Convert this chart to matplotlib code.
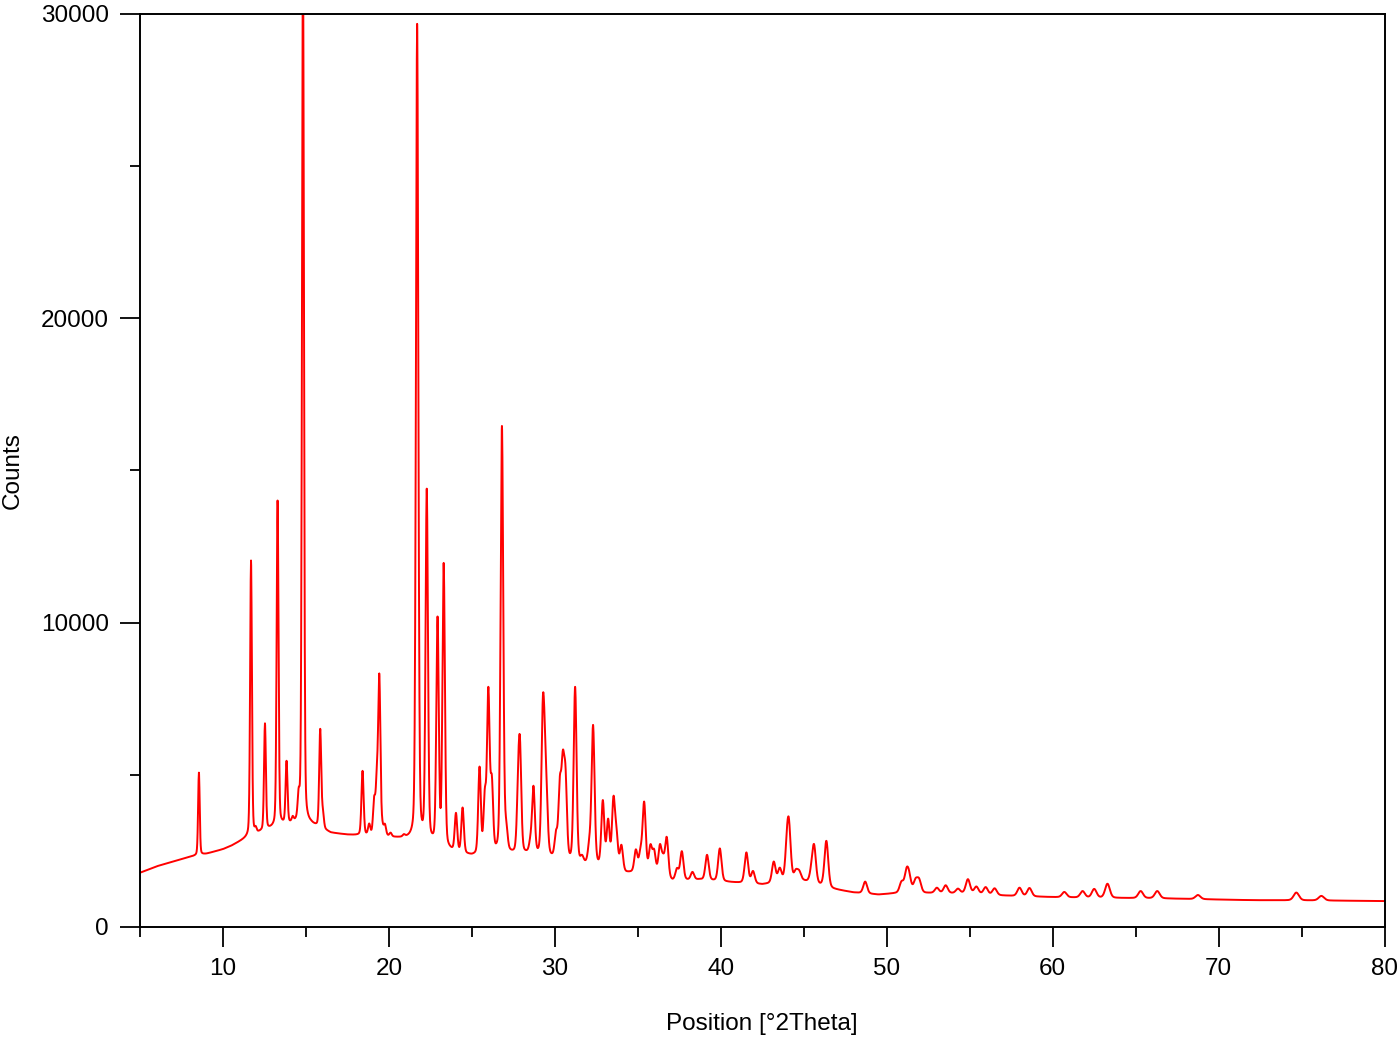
import matplotlib
matplotlib.use("Agg")
import matplotlib.pyplot as plt
import numpy as np
from matplotlib.ticker import MultipleLocator

# background knots (2theta, counts)
bg_pos = [5, 6, 7, 8, 9, 10, 10.5, 11.5, 12.5, 13.5, 14.5, 15.3, 16.5, 17.5, 19, 20, 21,
          22.5, 24, 25, 26.5, 27.5, 28.5, 30, 31.5, 32.6, 34.3, 35.5, 37.1, 38.7, 40.5,
          42.5, 44.8, 46.8, 48, 49.5, 50.5, 52.5, 55, 56.5, 58, 60, 62, 66.4, 70, 72, 76, 80]
bg_cnt = [1780, 1990, 2150, 2300, 2400, 2550, 2660, 2940, 3150, 3330, 3380, 3350, 3080, 3020, 2970, 2930, 2880,
          2700, 2420, 2320, 2360, 2360, 2380, 2200, 2040, 1960, 1760, 1780, 1500, 1550, 1470,
          1390, 1530, 1240, 1130, 1060, 1100, 1110, 1100, 1040, 1010, 980, 960, 940, 900, 880, 870, 850]

# peak positions (2theta) and apex heights (counts)
pk_pos = [8.55, 11.69, 11.97, 12.53, 13.29, 13.83, 14.2, 14.56, 14.82, 15.86, 16.02,
          18.41, 18.81, 19.11, 19.27, 19.42, 19.6, 19.76, 20.1, 20.9, 21.2,
          21.7, 22.28, 22.93, 23.3, 24.04, 24.44, 25.46, 25.78, 25.99, 26.2,
          26.81, 27.07, 27.79, 27.9, 28.53, 28.71, 29.27, 29.38, 29.5, 30.07, 30.3,
          30.48, 30.64, 31.22, 31.64, 32.08, 32.3, 32.4, 32.89, 33.21, 33.53, 33.71,
          34.01, 34.88, 35.16, 35.38, 35.76, 35.98, 36.33, 36.52, 36.74, 37.36, 37.65,
          38.29, 39.17, 39.94, 41.54, 41.94, 43.19, 43.55, 43.99, 44.11, 44.52, 44.72,
          45.46, 45.62, 46.36, 48.7, 50.89, 51.19, 51.35, 51.73, 51.95, 53.02, 53.55,
          54.29, 54.89, 55.4, 55.96, 56.5, 58.0, 58.6, 60.7, 61.8, 62.5, 63.3, 65.3,
          66.3, 68.75, 74.68, 76.19]
pk_top = [5070, 12040, 3320, 6690, 14010, 5460, 3650, 4580, 32000, 6510, 3900,
          5130, 3400, 4300, 5280, 8330, 3550, 3390, 3100, 3050, 3050,
          29670, 14400, 10200, 11960, 3750, 3925, 5270, 4570, 7890, 5000,
          16460, 3520, 5480, 6195, 3050, 4640, 7490, 6900, 4860, 3190, 4960,
          5810, 5290, 7890, 2370, 2990, 6640, 4570, 4170, 3560, 4300, 3320,
          2700, 2550, 2630, 4120, 2720, 2560, 2720, 2420, 2960, 1940, 2490,
          1810, 2370, 2580, 2450, 1840, 2150, 1950, 3290, 3540, 1900, 1870,
          2170, 2720, 2830, 1490, 1510, 1950, 1840, 1600, 1600, 1290, 1370,
          1260, 1570, 1330, 1310, 1270, 1290, 1280, 1150, 1180, 1250, 1420, 1180,
          1180, 1050, 1130, 1020]

two_theta = np.arange(5.0, 80.0001, 0.01)
background = np.interp(two_theta, bg_pos, bg_cnt)


def profile(x, x0, fwhm):
    # pseudo-Voigt peak shape, unit height
    g = np.exp(-4 * np.log(2) * ((x - x0) / fwhm) ** 2)
    lor = 1.0 / (1 + 4 * ((x - x0) / fwhm) ** 2)
    return 0.75 * g + 0.25 * lor


pos = np.array(pk_pos)
widths = 0.10 + 0.004 * (pos - 5)
# solve for amplitudes so the summed curve reaches every apex
A = np.array([[profile(xi, xj, wj) for xj, wj in zip(pos, widths)] for xi in pos])
target = np.array(pk_top) - np.interp(pos, bg_pos, bg_cnt)
amps = np.clip(np.linalg.lstsq(A, target, rcond=None)[0], 0, None)

counts = background.copy()
for x0, w, a in zip(pos, widths, amps):
    counts += a * profile(two_theta, x0, w)

plt.rcParams["font.family"] = ["Liberation Sans", "DejaVu Sans"]
fig = plt.figure(figsize=(14, 10.4), dpi=100)
ax = fig.add_axes([0.1, 0.1087, 0.889, 0.878])
ax.plot(two_theta, counts, color="#ff0000", lw=1.4)

ax.set_xlim(5, 80)
ax.set_ylim(0, 30000)
ax.xaxis.set_major_locator(MultipleLocator(10))
ax.xaxis.set_minor_locator(MultipleLocator(5))
ax.yaxis.set_major_locator(MultipleLocator(10000))
ax.yaxis.set_minor_locator(MultipleLocator(5000))
ax.tick_params(which="major", direction="out", length=14.4, width=1.3, labelsize=17.5, pad=8)
ax.tick_params(which="minor", direction="out", length=7.2, width=1.3)
for sp in ax.spines.values():
    sp.set_linewidth(1.4)

ax.set_xlabel("Position [°2Theta]", fontsize=17.5, labelpad=24)
ax.set_ylabel("Counts", fontsize=17.5, labelpad=12)

fig.savefig("out.png", dpi=100)
